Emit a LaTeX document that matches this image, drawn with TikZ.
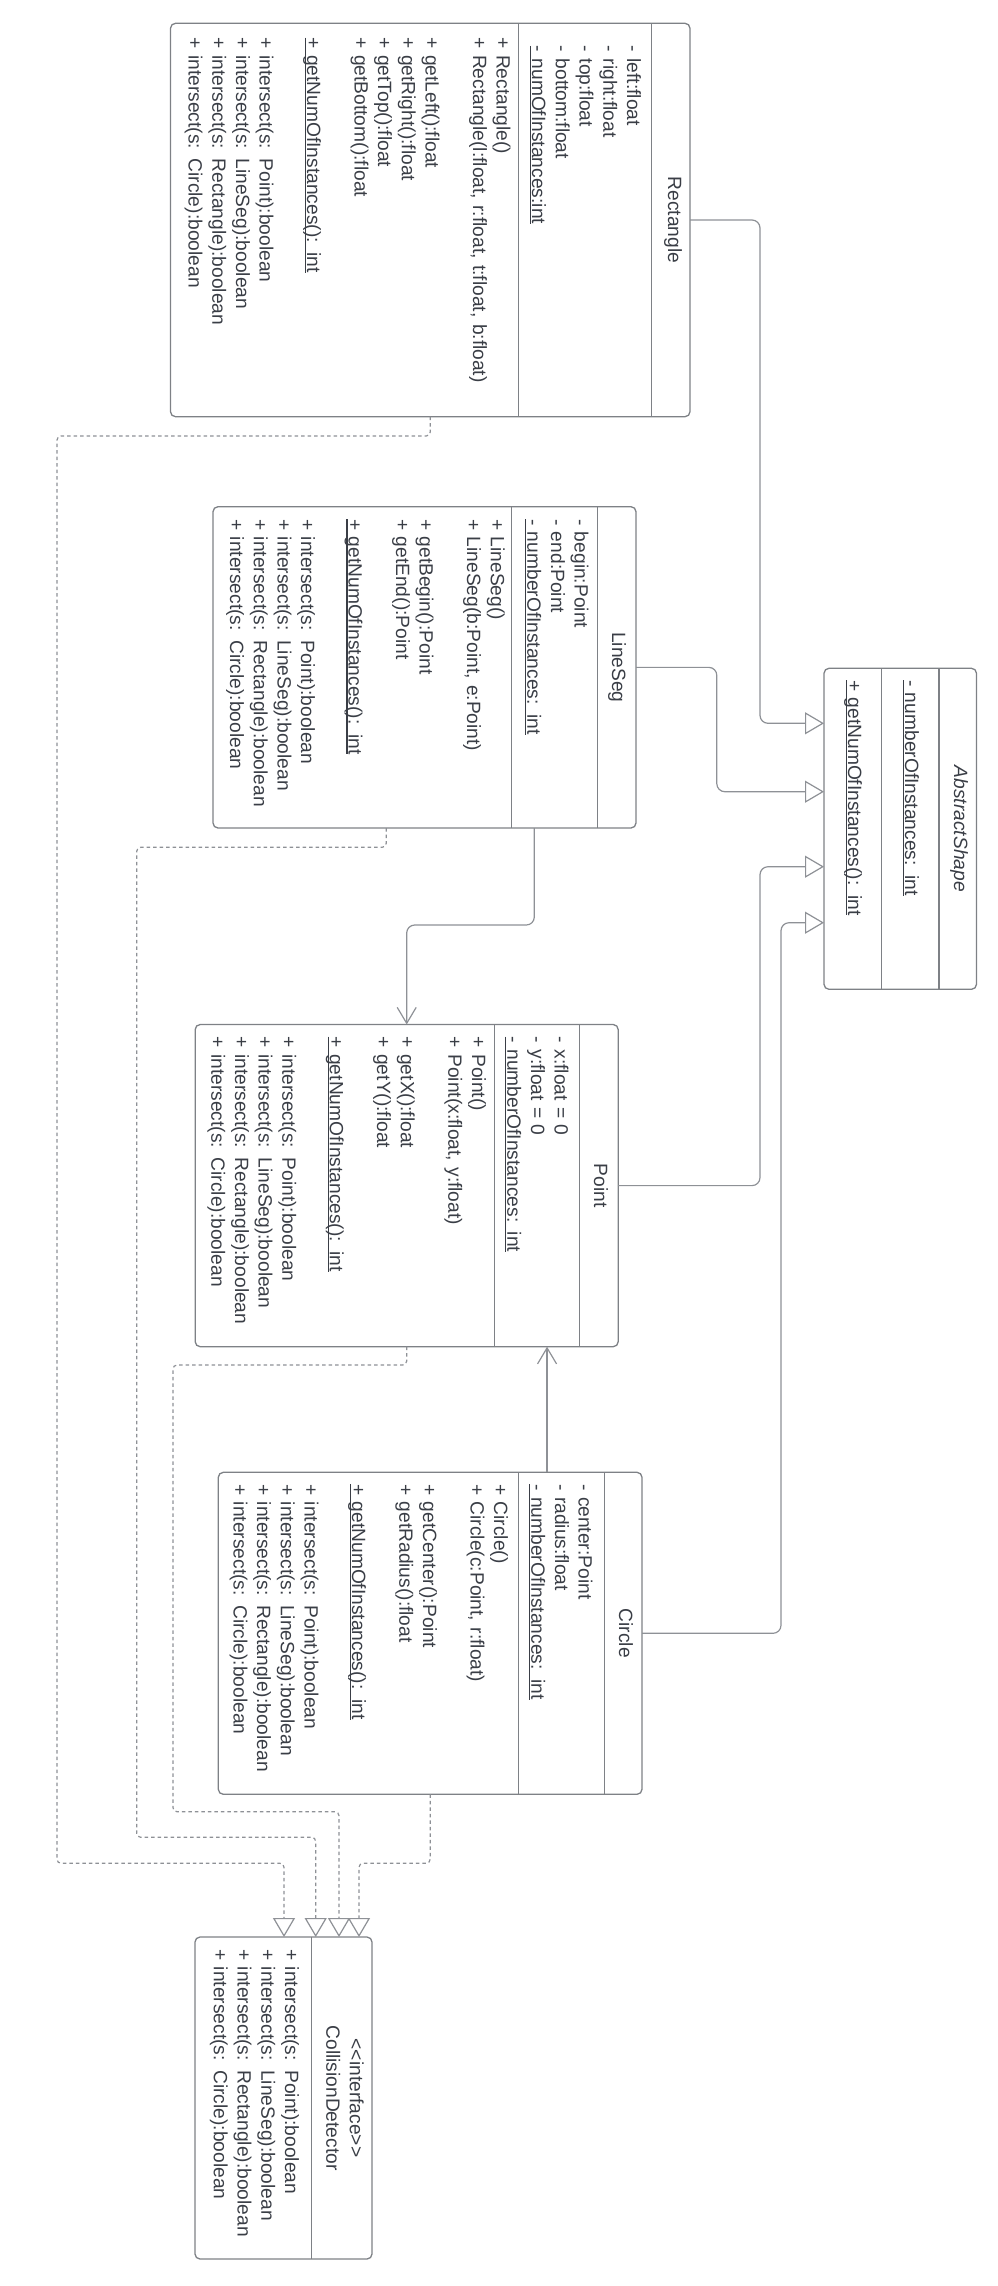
\documentclass[tikz,border=0pt]{standalone}
\usepackage{fontspec}
\setmainfont{Liberation Sans}
\usetikzlibrary{arrows.meta}

\definecolor{boxgray}{HTML}{7E8186}
\definecolor{linegray}{HTML}{8E9196}
\definecolor{txtgray}{HTML}{3A3E46}

\newsavebox{\statbox}
\newcommand{\statmember}[1]{\leavevmode\sbox{\statbox}{#1}\rlap{\rule[-2.2pt]{\wd\statbox}{1.1pt}}\usebox{\statbox}}
\newcommand{\classfont}{\fontsize{19.2}{23.7}\selectfont}

\begin{document}
\begin{tikzpicture}[x=1pt, y=-1pt,
  classbox/.style={draw=boxgray, line width=1.3pt, rounded corners=5pt, inner sep=0pt, outer sep=0pt},
  divider/.style={draw=boxgray, line width=1.3pt},
  classname/.style={rotate=-90, font=\classfont, text=txtgray, inner sep=0pt, align=center},
  members/.style={rotate=-90, anchor=base west, inner sep=0pt, text width=380pt, align=left, font=\classfont, text=txtgray},
  inherit/.style={draw=linegray, line width=1.2pt, rounded corners=8pt, -{Triangle[open, length=19pt, width=22pt]}},
  assoc/.style={draw=linegray, line width=1.2pt, rounded corners=8pt, -{Straight Barb[length=16pt, width=19pt]}},
  realize/.style={draw=linegray, line width=1.2pt, dash pattern=on 3.5pt off 3pt, rounded corners=4pt, -{Triangle[open, length=19pt, width=22pt]}}]
  \useasboundingbox (0,0) rectangle (998,2286);

  \node[classbox, minimum width=519.5pt, minimum height=393.4pt] (rect) at (430.25,220) {};
  \node[classbox, minimum width=423pt, minimum height=321.3pt] (lineseg) at (424.5,667.35) {};
  \node[classbox, minimum width=152.5pt, minimum height=321pt] (abstractshape) at (900.25,828.8) {};
  \node[classbox, minimum width=423pt, minimum height=322.2pt] (point) at (406.7,1185.6) {};
  \node[classbox, minimum width=423.7pt, minimum height=322pt] (circle) at (430.15,1633.3) {};
  \node[classbox, minimum width=177pt, minimum height=322pt] (detector) at (283.5,2098) {};

  \draw[divider] (rect.north -| 651.8,0) -- (rect.south -| 651.8,0);
  \draw[divider] (rect.north -| 518.5,0) -- (rect.south -| 518.5,0);
  \draw[divider] (lineseg.north -| 597.5,0) -- (lineseg.south -| 597.5,0);
  \draw[divider] (lineseg.north -| 511.6,0) -- (lineseg.south -| 511.6,0);
  \draw[divider] (abstractshape.north -| 939,0) -- (abstractshape.south -| 939,0);
  \draw[divider] (abstractshape.north -| 881.7,0) -- (abstractshape.south -| 881.7,0);
  \draw[divider] (point.north -| 579.7,0) -- (point.south -| 579.7,0);
  \draw[divider] (point.north -| 494.8,0) -- (point.south -| 494.8,0);
  \draw[divider] (circle.north -| 604.4,0) -- (circle.south -| 604.4,0);
  \draw[divider] (circle.north -| 518.5,0) -- (circle.south -| 518.5,0);
  \draw[divider] (detector.north -| 311.7,0) -- (detector.south -| 311.7,0);

  \node[classname] (rect_name) at (rect.center -| 673,0) {Rectangle};
  \node[members] (rect_attrs) at (627,45.7) {- left:float\\ - right:float\\ - top:float\\ - bottom:float\\ \statmember{- numOfInstances:int}};
  \node[members] (rect_ops) at (496.7,37.3) {+ Rectangle()\\ + Rectangle(l:float, r:float, t:float, b:float)\\[23.7pt]
    + getLeft():float\\ + getRight():float\\ + getTop():float\\ + getBottom():float\\[23.7pt]
    \statmember{+ getNumOfInstances(): int}\\[23.7pt]
    + intersect(s: Point):boolean\\ + intersect(s: LineSeg):boolean\\ + intersect(s: Rectangle):boolean\\ + intersect(s: Circle):boolean};

  \node[classname] (lineseg_name) at (lineseg.center -| 617,0) {LineSeg};
  \node[members] (lineseg_attrs) at (574.7,519) {- begin:Point\\ - end:Point\\ \statmember{- numberOfInstances: int}};
  \node[members] (lineseg_ops) at (490.8,519) {+ LineSeg()\\ + LineSeg(b:Point, e:Point)\\[23.7pt]
    + getBegin():Point\\ + getEnd():Point\\[23.7pt]
    \statmember{+ getNumOfInstances(): int}\\[23.7pt]
    + intersect(s: Point):boolean\\ + intersect(s: LineSeg):boolean\\ + intersect(s: Rectangle):boolean\\ + intersect(s: Circle):boolean};

  \node[classname] (abstractshape_name) at (abstractshape.center -| 959,0) {\itshape AbstractShape};
  \node[members] (abstractshape_attrs) at (905,680) {\statmember{- numberOfInstances: int}};
  \node[members] (abstractshape_ops) at (848,680) {\statmember{+ getNumOfInstances(): int}};

  \node[classname] (point_name) at (point.center -| 601,0) {Point};
  \node[members] (point_attrs) at (554.7,1036.5) {- x:float = 0\\ - y:float = 0\\ \statmember{- numberOfInstances: int}};
  \node[members] (point_ops) at (472,1036.5) {+ Point()\\ + Point(x:float, y:float)\\[23.7pt]
    + getX():float\\ + getY():float\\[23.7pt]
    \statmember{+ getNumOfInstances(): int}\\[23.7pt]
    + intersect(s: Point):boolean\\ + intersect(s: LineSeg):boolean\\ + intersect(s: Rectangle):boolean\\ + intersect(s: Circle):boolean};

  \node[classname] (circle_name) at (circle.center -| 626,0) {Circle};
  \node[members] (circle_attrs) at (578.7,1484) {- center:Point\\ - radius:float\\ \statmember{- numberOfInstances: int}};
  \node[members] (circle_ops) at (494.2,1484) {+ Circle()\\ + Circle(c:Point, r:float)\\[23.7pt]
    + getCenter():Point\\ + getRadius():float\\[23.7pt]
    \statmember{+ getNumOfInstances(): int}\\[23.7pt]
    + intersect(s: Point):boolean\\ + intersect(s: LineSeg):boolean\\ + intersect(s: Rectangle):boolean\\ + intersect(s: Circle):boolean};

  \node[classname] (detector_name) at (detector.center -| 345,0) {<\kern0pt<interface>\kern0pt>\\CollisionDetector};
  \node[members] (detector_ops) at (285,1949) {+ intersect(s: Point):boolean\\ + intersect(s: LineSeg):boolean\\ + intersect(s: Rectangle):boolean\\ + intersect(s: Circle):boolean};

  \draw[inherit] (rect.east) -| (760,723.3) -- (abstractshape.west |- 0,723.3);
  \draw[inherit] (lineseg.east) -| (716.8,791.7) -- (abstractshape.west |- 0,791.7);
  \draw[inherit] (point.east) -| (760,866.7) -- (abstractshape.west |- 0,866.7);
  \draw[inherit] (circle.east) -| (781,922.7) -- (abstractshape.west |- 0,922.7);

  \draw[assoc] ([xshift=109.8pt]lineseg.south) -- ++(0,97) -| (point.north);
  \draw[assoc] ([xshift=116.9pt]circle.north) -- ([xshift=116.9pt]circle.north |- point.south);

  \draw[realize] (rect.south) -- ++(0,19.3) -| (57,1863.3) -| (detector.north -| 284,0);
  \draw[realize] ([xshift=-38.3pt]lineseg.south) -- ++(0,19.3) -| (136.7,1837.3) -| (detector.north -| 315.7,0);
  \draw[realize] (point.south) -- ++(0,18.3) -| (173,1811.7) -| (detector.north -| 339,0);
  \draw[realize] (circle.south) -- ++(0,69) -| (detector.north -| 359,0);
\end{tikzpicture}
\end{document}
